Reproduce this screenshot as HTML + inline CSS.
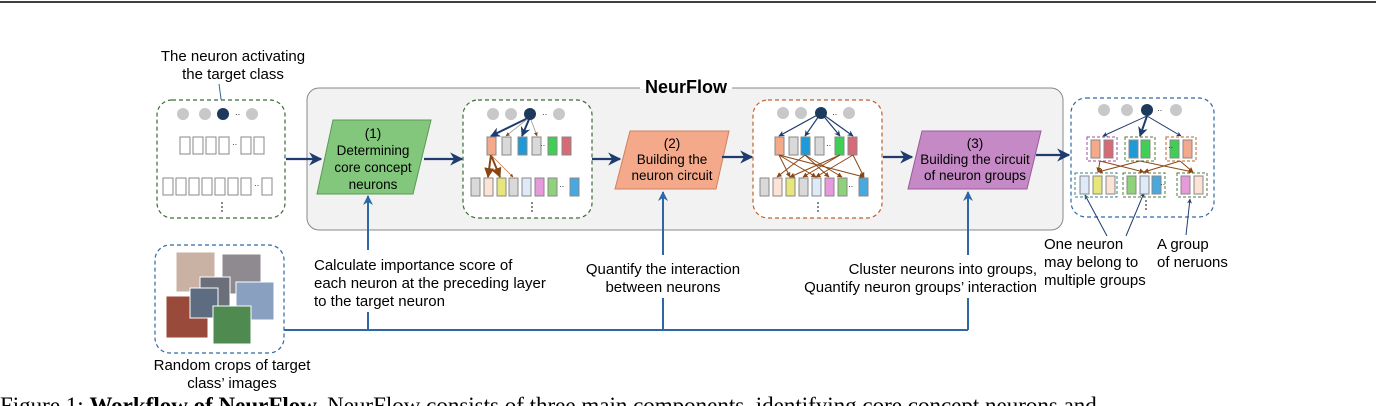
<!DOCTYPE html>
<html><head><meta charset="utf-8"><style>
html,body{margin:0;padding:0;background:#fff;width:1376px;height:406px;overflow:hidden}
svg{display:block}
text{font-family:"Liberation Sans",Arial,sans-serif;fill:#000}
</style></head><body>
<svg id="s" width="1376" height="406" viewBox="0 0 1376 406" xmlns="http://www.w3.org/2000/svg">
<defs>
<marker id="ab" viewBox="0 0 10 10" refX="9" refY="5" markerWidth="5" markerHeight="5" orient="auto"><path d="M0,0 L10,5 L0,10 L3,5z" fill="#1f3c6e"/></marker>
<marker id="ab2" viewBox="0 0 10 10" refX="9" refY="5" markerWidth="5" markerHeight="5" orient="auto"><path d="M0,0 L10,5 L0,10 L3,5z" fill="#2e67a5"/></marker>
<marker id="ar" viewBox="0 0 10 10" refX="9" refY="5" markerWidth="5" markerHeight="5" orient="auto"><path d="M0,0 L10,5 L0,10 z" fill="#8b4513"/></marker>
<marker id="an" viewBox="0 0 10 10" refX="9" refY="5" markerWidth="6" markerHeight="6" orient="auto"><path d="M0,0 L10,5 L0,10 L3,5z" fill="#1f3c6e"/></marker>
</defs>
<line x1="0" y1="2" x2="1376" y2="2" stroke="#000" stroke-width="1.5"/>

<rect x="307" y="88" width="756" height="142" rx="12" fill="#f2f2f2" stroke="#888" stroke-width="1"/>
<rect x="640" y="78" width="92" height="16" fill="#fff"/>
<rect x="640" y="89" width="92" height="6" fill="#f2f2f2"/>
<text x="686" y="93" font-size="18" font-weight="bold" text-anchor="middle">NeurFlow</text>

<text x="233" y="61" font-size="15" text-anchor="middle">The neuron activating</text>
<text x="233" y="79" font-size="15" text-anchor="middle">the target class</text>
<line x1="219" y1="84" x2="222" y2="106" stroke="#2e67a5" stroke-width="1" marker-end="url(#ab2)"/>

<rect x="157" y="100" width="128" height="118" rx="15" fill="#fff" stroke="#3d6b35" stroke-width="1.2" stroke-dasharray="4,3"/>
<rect x="463" y="100" width="129" height="118" rx="15" fill="#fff" stroke="#3d6b35" stroke-width="1.2" stroke-dasharray="4,3"/>
<rect x="753" y="100" width="129" height="118" rx="15" fill="#fff" stroke="#c0612a" stroke-width="1.2" stroke-dasharray="4,3"/>
<rect x="1071" y="98" width="143" height="119" rx="15" fill="#fff" stroke="#2e67a5" stroke-width="1.2" stroke-dasharray="4,3"/>
<rect x="155" y="245" width="129" height="108" rx="15" fill="#fff" stroke="#2e67a5" stroke-width="1.2" stroke-dasharray="4,3"/>

<polygon points="333,120 431,120 413,194 317,194" fill="#82c77c" stroke="#5a9a52"/>
<text x="373" y="138" font-size="13.5" text-anchor="middle">(1)</text>
<text x="373" y="155" font-size="13.5" text-anchor="middle">Determining</text>
<text x="373" y="172" font-size="13.5" text-anchor="middle">core concept</text>
<text x="373" y="189" font-size="13.5" text-anchor="middle">neurons</text>
<polygon points="630,131 729,131 716,189 615,189" fill="#f4a98a" stroke="#d0805e"/>
<text x="672" y="148" font-size="13.5" text-anchor="middle">(2)</text>
<text x="672" y="164" font-size="13.5" text-anchor="middle">Building the</text>
<text x="672" y="180" font-size="13.5" text-anchor="middle">neuron circuit</text>
<polygon points="922,131 1041,131 1027,189 908,189" fill="#c58ac6" stroke="#9a5a9a"/>
<text x="975" y="148" font-size="13.5" text-anchor="middle">(3)</text>
<text x="975" y="164" font-size="13.5" text-anchor="middle">Building the circuit</text>
<text x="975" y="180" font-size="13.5" text-anchor="middle">of neuron groups</text>

<g stroke="#1f3c6e" stroke-width="2.2" fill="none">
<line x1="286" y1="159" x2="321" y2="159" marker-end="url(#an)"/>
<line x1="424" y1="159" x2="462" y2="159" marker-end="url(#an)"/>
<line x1="592" y1="159" x2="620" y2="159" marker-end="url(#an)"/>
<line x1="722" y1="157" x2="752" y2="157" marker-end="url(#an)"/>
<line x1="883" y1="157" x2="912" y2="157" marker-end="url(#an)"/>
<line x1="1036" y1="155" x2="1069" y2="155" marker-end="url(#an)"/>
</g>

<g stroke="#2e67a5" stroke-width="2" fill="none">
<polyline points="284,330 968,330"/>
<line x1="368" y1="330" x2="368" y2="312"/>
<line x1="368" y1="250" x2="368" y2="196" marker-end="url(#ab2)"/>
<line x1="663" y1="330" x2="663" y2="298"/>
<line x1="663" y1="255" x2="663" y2="192" marker-end="url(#ab2)"/>
<line x1="968" y1="330" x2="968" y2="298"/>
<line x1="968" y1="255" x2="968" y2="192" marker-end="url(#ab2)"/>
</g>
<text x="314" y="270" font-size="15">Calculate importance score of</text>
<text x="314" y="288" font-size="15">each neuron at the preceding layer</text>
<text x="314" y="306" font-size="15">to the target neuron</text>
<text x="663" y="274" font-size="15" text-anchor="middle">Quantify the interaction</text>
<text x="663" y="292" font-size="15" text-anchor="middle">between neurons</text>
<text x="1037" y="274" font-size="15" text-anchor="end">Cluster neurons into groups,</text>
<text x="1037" y="292" font-size="15" text-anchor="end">Quantify neuron groups’ interaction</text>

<text x="232" y="370" font-size="15" text-anchor="middle">Random crops of target</text>
<text x="232" y="388" font-size="15" text-anchor="middle">class’ images</text>

<text x="1044" y="249" font-size="15">One neuron</text>
<text x="1044" y="267" font-size="15">may belong to</text>
<text x="1044" y="285" font-size="15">multiple groups</text>
<text x="1157" y="249" font-size="15">A group</text>
<text x="1157" y="267" font-size="15">of neruons</text>
<g stroke="#1f3c6e" stroke-width="1" fill="none">
<line x1="1107" y1="236" x2="1085" y2="195" marker-end="url(#ab)"/>
<line x1="1126" y1="236" x2="1144" y2="193" marker-end="url(#ab)"/>
<line x1="1186" y1="235" x2="1190" y2="199" marker-end="url(#ab)"/>
</g>

<text x="0" y="413" font-size="23" style="font-family:'Liberation Serif',serif">Figure 1: <tspan font-weight="bold">Workflow of NeurFlow.</tspan> NeurFlow consists of three main components, identifying core concept neurons and</text>
<g id="g"></g>
</svg>
<script>
const g=document.getElementById('g');const NS='http://www.w3.org/2000/svg';
function el(t,a){const e=document.createElementNS(NS,t);for(const k in a)e.setAttribute(k,a[k]);g.appendChild(e);return e;}
function circles(xs,y,dark){xs.forEach((x,i)=>el('circle',{cx:x,cy:y,r:6,fill:i==dark?'#1b3a5e':'#c8c8c8'}));}
function rect(x,y,c,h=18,w=9){el('rect',{x:x,y:y,width:w,height:h,fill:c,stroke:'#888','stroke-width':1});}
function dots(x,y){el('text',{x:x,y:y,'font-size':8,fill:'#555'}).textContent='··';}
function vd(x,y){for(let i=0;i<3;i++)el('circle',{cx:x,cy:y+i*4,r:0.9,fill:'#333'});}
function line(x1,y1,x2,y2,c,w,m){el('line',{x1,y1,x2,y2,stroke:c,'stroke-width':w,'marker-end':m?'url(#'+m+')':''});}
circles([183,205,223,252],114,2);dots(235,117);
[180,193,206,219].forEach(x=>rect(x,137,'#fff',17,10));dots(232,147);[241,254].forEach(x=>rect(x,137,'#fff',17,10));
[163,176,189,202,215,228,241].forEach(x=>rect(x,178,'#fff',17,10));dots(254,188);rect(262,178,'#fff',17,10);vd(222,203);
const r1=[[487,'#f4a98a'],[502,'#d9d9d9'],[518,'#1e9bd7'],[532,'#d9d9d9'],[548,'#3fcf55'],[562,'#d86a78']];
const r2=[[471,'#d9d9d9'],[484,'#fde2d6'],[497,'#e6e67a'],[509,'#d9d9d9'],[522,'#deeaf7'],[535,'#e59bdb'],[548,'#8ed27a'],[570,'#49a8de']];
line(530,117,491,136,'#1f3c6e',2,'ab');line(530,117,522,136,'#1f3c6e',2,'ab');line(530,117,506,136,'#999',0.8,'ar');line(530,117,537,136,'#999',0.8,'ar');
circles([493,511,530,559],114,2);dots(542,117);
r1.forEach(([x,c])=>rect(x,137,c));dots(540,148);r2.forEach(([x,c])=>rect(x,178,c));dots(559,189);
line(491,155,488,177,'#8b4513',2,'ar');line(491,155,500,177,'#8b4513',2,'ar');line(491,155,513,177,'#c07040',0.7,'ar');vd(532,203);
const b=[[775,'#f4a98a'],[789,'#d9d9d9'],[801,'#1e9bd7'],[815,'#d9d9d9'],[835,'#3fcf55'],[848,'#d86a78']];
const bb=[[760,'#d9d9d9'],[773,'#fde2d6'],[786,'#e6e67a'],[799,'#d9d9d9'],[812,'#deeaf7'],[825,'#e59bdb'],[838,'#8ed27a'],[859,'#49a8de']];
[779,805,840,853].forEach(x=>line(821,113,x,136,'#1f3c6e',1.2,'ab'));
circles([783,801,821,849],113,2);dots(832,117);
b.forEach(([x,c])=>rect(x,137,c));dots(826,148);bb.forEach(([x,c])=>rect(x,178,c));dots(848,189);
[[779,790],[779,816],[805,777],[805,829],[840,790],[840,803],[853,816],[779,864],[805,842],[853,864]].forEach(([a,c])=>line(a,155,c,177,'#8b4513',1,'ar'));vd(818,203);
circles([1104,1127,1147,1176],110,2);dots(1157,113);
[[1087,137,30],[1125,137,30],[1166,137,30],[1075,173,42],[1123,173,42],[1177,173,30]].forEach(([x,y,w],i)=>el('rect',{x,y,width:w,height:24,fill:'none',stroke:['#a04ca0','#4d7a3a','#c0612a','#2e8a8a','#4d7a3a','#4d7a3a'][i],'stroke-width':1,'stroke-dasharray':'3,2'}));
[[1091,'#f4a98a'],[1104,'#d86a78'],[1129,'#1e9bd7'],[1141,'#3fcf55'],[1170,'#3fcf55'],[1183,'#f4a98a']].forEach(([x,c])=>rect(x,140,c));
[[1080,'#deeaf7'],[1093,'#e6e67a'],[1106,'#fde2d6'],[1127,'#8ed27a'],[1140,'#deeaf7'],[1152,'#49a8de'],[1181,'#e59bdb'],[1194,'#fde2d6']].forEach(([x,c])=>rect(x,176,c));
dots(1160,187);dots(1168,150);vd(1146,201);
line(1147,116,1103,136,'#1f3c6e',1,'ab');line(1147,116,1140,136,'#1f3c6e',2,'ab');line(1147,116,1181,136,'#1f3c6e',1,'ab');
[[1100,1098],[1100,1144],[1140,1098],[1140,1193],[1180,1144],[1180,1193]].forEach(([a,c])=>line(a,161,c,172,'#8b4513',1,'ar'));
[[176,252,39,40,'#c9b2a4'],[222,254,39,40,'#8f8a8f'],[200,277,30,35,'#6b6f7a'],[236,282,38,38,'#8aa0c0'],[166,296,42,42,'#9a4a3a'],[190,288,28,30,'#5d6c80'],[213,306,38,38,'#4f8a50']].forEach(([x,y,w,h,c])=>el('rect',{x,y,width:w,height:h,fill:c,stroke:'#fff','stroke-width':1}));
</script>
</body></html>
